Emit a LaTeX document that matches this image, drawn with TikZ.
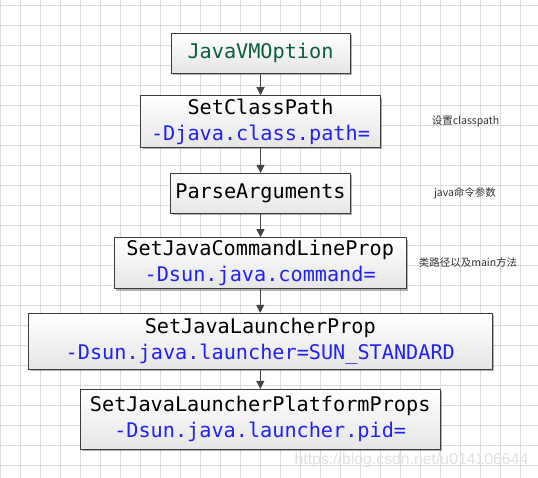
\documentclass[tikz,border=0pt]{standalone}
\usepackage{fontspec}
\setmainfont{DejaVu Sans}
\newfontfamily\codefont{DejaVu Sans Mono}
\newfontfamily\cjkfont{Noto Sans CJK SC}
\newfontfamily\wmfont{Liberation Sans}
\usetikzlibrary{shadows,arrows.meta}
\definecolor{gridc}{HTML}{DCDCDC}
\definecolor{boxline}{HTML}{3C3C3C}
\definecolor{greentxt}{HTML}{0B5E3C}
\definecolor{bluetxt}{HTML}{2222F0}
\definecolor{arrc}{HTML}{444444}
\definecolor{notec}{HTML}{333333}
\tikzset{
  flowbox/.style={draw=boxline, line width=0.9pt, inner sep=0pt, align=center,
    top color=white, bottom color=black!10,
    drop shadow={shadow xshift=2pt, shadow yshift=-2pt, opacity=0.3, fill=black},
    font=\codefont\fontsize{20.2}{26}\selectfont},
  flowarrow/.style={draw=arrc, line width=1pt, -{Triangle[length=8pt,width=8pt]}},
  notetext/.style={text=notec, inner sep=0pt, font=\cjkfont\fontsize{10.5}{12}\selectfont},
  gridline/.style={draw=gridc, line width=0.8pt}
}
\begin{document}
\begin{tikzpicture}[x=1pt,y=-1pt]
\useasboundingbox (0,0) rectangle (538,478);
\fill[white] (0,0) rectangle (538,478);
\foreach \gx in {0,20,...,540} \draw[gridline] (\gx+0.5,0) -- (\gx+0.5,478);
\foreach \gy in {5,25,...,478} \draw[gridline] (0,\gy+0.5) -- (538,\gy+0.5);

\node[flowbox, minimum width=179pt, minimum height=40pt] (b1) at (260.5,53)
  {\textcolor{greentxt}{JavaVMOption}};
\node[flowbox, minimum width=239.6pt, minimum height=51.6pt] (b2) at (260.5,121.5)
  {SetClassPath\\\textcolor{bluetxt}{-Djava.class.path=}};
\node[flowbox, minimum width=179.6pt, minimum height=40pt] (b3) at (260.5,193.3)
  {ParseArguments};
\node[flowbox, minimum width=291.7pt, minimum height=51.3pt] (b4) at (260.2,263.3)
  {SetJavaCommandLineProp\\\textcolor{bluetxt}{-Dsun.java.command=}};
\node[flowbox, minimum width=464pt, minimum height=56pt] (b5) at (260.3,341.3)
  {SetJavaLauncherProp\\\textcolor{bluetxt}{-Dsun.java.launcher=SUN\_STANDARD}};
\node[flowbox, minimum width=359.7pt, minimum height=59.7pt] (b6) at (260.2,419.2)
  {SetJavaLauncherPlatformProps\\\textcolor{bluetxt}{-Dsun.java.launcher.pid=}};

\draw[flowarrow] (b1.south) -- (b1.south |- b2.north);
\draw[flowarrow] (b2.south) -- (b2.south |- b3.north);
\draw[flowarrow] (b3.south) -- (b3.south |- b4.north);
\draw[flowarrow] (b4.south) -- (b4.south |- b5.north);
\draw[flowarrow] (b5.south) -- (b5.south |- b6.north);

\node[notetext] (n1) at (465.5,121.7) {设置classpath};
\node[notetext] (n2) at (465,193) {java命令参数};
\node[notetext] (n3) at (468,262.7) {类路径以及main方法};

\node[text=black!12, inner sep=0pt, font=\wmfont\fontsize{15.8}{18}\selectfont] (wm) at (411.5,460)
  {https://blog.csdn.net/u014106644};
\end{tikzpicture}
\end{document}
